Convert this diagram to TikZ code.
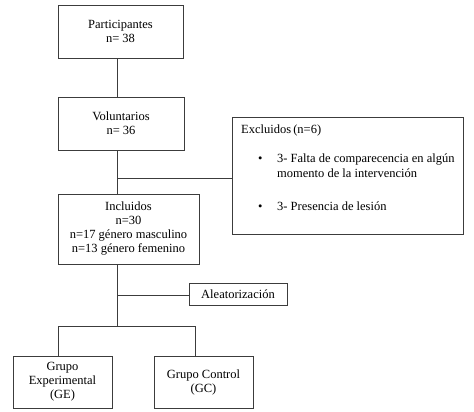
\documentclass[tikz,border=0pt]{standalone}
\usepackage{fontspec}
\setmainfont{Liberation Serif}
\definecolor{ln}{RGB}{60,60,60}
\begin{document}
\begin{tikzpicture}[x=1pt,y=1pt,
  font=\fontsize{12.5}{14}\selectfont,
  boxnode/.style={draw=ln,line width=0.9pt,inner sep=0pt,align=center},
  conn/.style={draw=ln,line width=0.9pt},
  txt/.style={inner sep=0pt,anchor=base west}]
\useasboundingbox (0,0) rectangle (474,-412);
\fill[white] (0,0) rectangle (474,-412);
\node[boxnode,minimum width=125,minimum height=53] (par) at (120.5,-31.5) {Participantes\\n= 38};
\node[boxnode,minimum width=126,minimum height=53] (vol) at (121,-123.5) {Voluntarios\\n= 36};
\node[boxnode,minimum width=231,minimum height=117] (exc) at (347.5,-175.5) {};
\node[txt] (exct) at (241,-133) {Excluidos\hspace{-1pt} (n=6)};
\node[txt] (b1) at (258,-162) {\textbullet};
\node[txt] (e1) at (277,-162) {3- Falta de comparecencia en algún};
\node[txt] (e2) at (277,-177) {momento de la intervención};
\node[txt] (b2) at (258,-210) {\textbullet};
\node[txt] (e3) at (277,-210) {3- Presencia de lesión};
\node[boxnode,minimum width=141,minimum height=70] (inc) at (128.5,-229) {Incluidos\\n=30\\n=17 género masculino\\n=13 género femenino};
\node[boxnode,minimum width=98,minimum height=22] (ale) at (238,-294) {Aleatorización};
\node[boxnode,minimum width=99,minimum height=52] (ge) at (62.5,-382) {Grupo\\Experimental\\(GE)};
\node[boxnode,minimum width=99,minimum height=52] (gc) at (203.5,-382) {Grupo Control\\(GC)};
\coordinate (spine) at (117,0);
\coordinate (j1) at (117,-178);
\coordinate (j2) at (117,-295);
\coordinate (fl) at (58,-326);
\coordinate (fr) at (195,-326);
\coordinate (fm) at (117,-326);
\draw[conn] (par.south -| spine) -- (vol.north -| spine);
\draw[conn] (vol.south -| spine) -- (inc.north -| spine);
\draw[conn] (j1) -- (j1 -| exc.west);
\draw[conn] (inc.south -| spine) -- (fm);
\draw[conn] (j2) -- (j2 -| ale.west);
\draw[conn] (ge.north -| fl) -- (fl) -- (fr) -- (fr |- gc.north);
\end{tikzpicture}
\end{document}
